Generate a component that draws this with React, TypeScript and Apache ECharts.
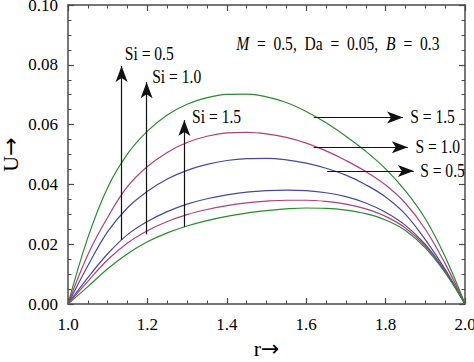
import React, { useEffect, useRef } from "react";
import * as echarts from "echarts";

// r values (x) shared by all curves
const rValues = [1.0, 1.05, 1.1, 1.15, 1.2, 1.25, 1.3, 1.35, 1.4, 1.45, 1.5, 1.55, 1.6, 1.65, 1.7, 1.75, 1.8, 1.85, 1.9, 1.95, 2.0];

// upper family (S variations)
const upperGreen = [0, 0.0222, 0.039, 0.0502, 0.0578, 0.0632, 0.0668, 0.069, 0.0701, 0.0702, 0.0693, 0.0674, 0.0644, 0.0606, 0.0561, 0.0511, 0.0452, 0.0378, 0.0285, 0.0158, 0];
const upperMagenta = [0, 0.0165, 0.029, 0.0393, 0.046, 0.0507, 0.054, 0.0561, 0.0572, 0.0574, 0.0569, 0.0557, 0.0538, 0.0512, 0.048, 0.0443, 0.0398, 0.0337, 0.025, 0.0135, 0];
const upperBlue = [0, 0.0128, 0.0242, 0.0322, 0.0377, 0.0418, 0.0447, 0.0467, 0.048, 0.0486, 0.0487, 0.0482, 0.0471, 0.0454, 0.0431, 0.0399, 0.0358, 0.03, 0.0215, 0.0116, 0];
// lower family (Si variations)
const lowerBlue = [0, 0.0088, 0.0168, 0.0232, 0.0276, 0.0309, 0.0334, 0.0352, 0.0365, 0.0374, 0.0379, 0.0381, 0.0379, 0.0372, 0.0359, 0.0338, 0.0307, 0.0263, 0.0199, 0.011, 0];
const lowerMagenta = [0, 0.0076, 0.0148, 0.0204, 0.0245, 0.0276, 0.0299, 0.0316, 0.0329, 0.0338, 0.0344, 0.0347, 0.0347, 0.0343, 0.0334, 0.0318, 0.0293, 0.0254, 0.0194, 0.0108, 0];
const lowerGreen = [0, 0.0058, 0.0118, 0.0168, 0.0208, 0.0238, 0.0261, 0.0279, 0.0293, 0.0304, 0.0312, 0.0318, 0.0321, 0.032, 0.0314, 0.0302, 0.0281, 0.0246, 0.0188, 0.0105, 0];

const GREEN = "#2a8a2e";
const MAGENTA = "#b0407a";
const BLUE = "#4848a0";

const curves = [
  { name: "S = 1.5", values: upperGreen, color: GREEN },
  { name: "S = 1.0", values: upperMagenta, color: MAGENTA },
  { name: "S = 0.5", values: upperBlue, color: BLUE },
  { name: "Si = 0.5", values: lowerBlue, color: BLUE },
  { name: "Si = 1.0", values: lowerMagenta, color: MAGENTA },
  { name: "Si = 1.5", values: lowerGreen, color: GREEN },
];

// Arrow annotations in data coordinates: [from, to]
const siArrows: [number, number][][] = [
  [[1.135, 0.0214], [1.135, 0.0796]],
  [[1.198, 0.0233], [1.198, 0.0742]],
  [[1.293, 0.0258], [1.293, 0.0615]],
];
const sArrows: [number, number][][] = [
  [[1.619, 0.0624], [1.844, 0.0624]],
  [[1.619, 0.0524], [1.856, 0.0524]],
  [[1.653, 0.0445], [1.871, 0.0445]],
];

// Label annotations: [text, r, v]
const siLabels: [string, number, number][] = [
  ["Si = 0.5", 1.143, 0.0835],
  ["Si = 1.0", 1.212, 0.0759],
  ["Si = 1.5", 1.3126, 0.0625],
];
const sLabels: [string, number, number][] = [
  ["S = 1.5", 1.862, 0.0625],
  ["S = 1.0", 1.875, 0.0524],
  ["S = 0.5", 1.887, 0.0445],
];
const paramLabel = { text: "{i|M}  =  0.5,  Da  =  0.05,  {i|B}  =  0.3", r: 1.4235, v: 0.087 };

const SERIF = "Liberation Serif";
const ARROW_FONT = "DejaVu Sans";
const AXIS_COLOR = "#4a4a4a";

function makeAxis(kind: "x" | "y", position: string, showLabel: boolean) {
  const isX = kind === "x";
  return {
    type: "value",
    position,
    min: isX ? 1 : 0,
    max: isX ? 2 : 0.1,
    interval: isX ? 0.2 : 0.02,
    axisLine: { show: true, onZero: false, lineStyle: { color: AXIS_COLOR, width: 1.5 } },
    axisTick: { show: true, inside: true, length: 6, lineStyle: { color: AXIS_COLOR, width: 1.2 } },
    minorTick: { show: true, splitNumber: 4, length: 3.5, lineStyle: { color: AXIS_COLOR, width: 1 } },
    splitLine: { show: false },
    minorSplitLine: { show: false },
    axisLabel: {
      show: showLabel,
      color: "#000",
      fontFamily: SERIF,
      fontSize: 17,
      margin: isX ? 12 : 10,
      formatter: (v: number) => (isX ? v.toFixed(1) : v.toFixed(2)),
    },
  };
}

export default function App() {
  const ref = useRef<HTMLDivElement>(null);

  useEffect(() => {
    if (!ref.current) return;
    const chart = echarts.init(ref.current, null, { renderer: "svg" });

    const nameRich = {
      t: { fontFamily: SERIF, fontSize: 22, color: "#000" },
      a: { fontFamily: ARROW_FONT, fontSize: 22, color: "#000" },
    };

    const xMain: any = makeAxis("x", "bottom", true);
    xMain.name = "{t|r}{a|→}";
    xMain.nameLocation = "middle";
    xMain.nameGap = 30;
    xMain.nameTextStyle = { fontFamily: SERIF, fontSize: 22, color: "#000", rich: nameRich };
    const yMain: any = makeAxis("y", "left", true);
    yMain.name = "{t|U}{a|→}";
    yMain.nameLocation = "middle";
    yMain.nameMoveOverlap = false;
    yMain.nameGap = 47;
    yMain.nameTextStyle = { fontFamily: SERIF, fontSize: 22, color: "#000", rich: nameRich };

    const option: any = {
      animation: false,
      backgroundColor: "#fff",
      textStyle: { fontFamily: SERIF },
      grid: { left: 68, right: 9, top: 5, bottom: 58, containLabel: false, outerBoundsMode: "none" },
      xAxis: [xMain, makeAxis("x", "top", false)],
      yAxis: [yMain, makeAxis("y", "right", false)],
      series: [
        ...curves.map((c) => ({
          type: "line",
          name: c.name,
          xAxisIndex: 0,
          yAxisIndex: 0,
          data: rValues.map((r, i) => [r, c.values[i]]),
          smooth: 0.4,
          showSymbol: false,
          symbol: "none",
          silent: true,
          lineStyle: { color: c.color, width: 1.2 },
          itemStyle: { color: c.color },
          z: 2,
        })),
        {
          type: "line",
          name: "arrows",
          xAxisIndex: 0,
          yAxisIndex: 0,
          data: [],
          silent: true,
          markLine: {
            silent: true,
            animation: false,
            symbol: ["none", "arrow"],
            symbolSize: [9, 16],
            label: { show: false },
            lineStyle: { color: "#111", width: 1.2, type: "solid" },
            emphasis: { disabled: true },
            data: [...siArrows, ...sArrows].map((p) => [
              { coord: p[0] },
              { coord: p[1] },
            ]),
          },
          z: 3,
        },
      ],
    };
    chart.setOption(option);

    const toPx = (r: number, v: number) =>
      chart.convertToPixel({ gridIndex: 0 } as any, [r, v]) as number[];

    const textEl = (text: string, r: number, v: number, rich?: any) => {
      const [x, y] = toPx(r, v);
      return {
        type: "text",
        x,
        y,
        scaleX: 0.82,
        scaleY: 1,
        z: 10,
        style: {
          text,
          fontFamily: SERIF,
          fontSize: 19,
          fill: "#000",
          align: "left",
          verticalAlign: "middle",
          rich,
        },
      };
    };

    const graphics = [
      ...siLabels.map(([t, r, v]) => textEl(t, r, v)),
      ...sLabels.map(([t, r, v]) => textEl(t, r, v)),
      textEl(paramLabel.text, paramLabel.r, paramLabel.v, {
        i: { fontFamily: SERIF, fontSize: 19, fontStyle: "italic", fill: "#000" },
      }),
    ];
    chart.setOption({ graphic: graphics });

    return () => chart.dispose();
  }, []);

  return (
    <div
      ref={ref}
      style={{ position: "fixed", left: 0, top: 0, width: 474, height: 362, background: "#fff" }}
    />
  );
}
